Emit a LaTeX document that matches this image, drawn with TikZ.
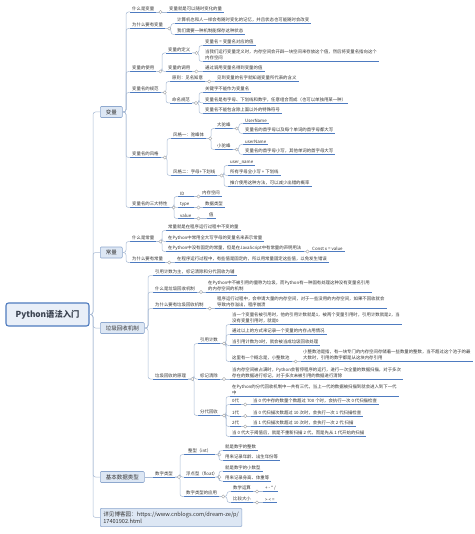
\documentclass[tikz,border=0pt]{standalone}
\usepackage{fontspec}
\setmainfont{Noto Sans CJK SC}
\usetikzlibrary{calc}
\definecolor{txt}{HTML}{333333}
\definecolor{ulc}{HTML}{4E7BC0}
\definecolor{cnc}{HTML}{A9BBD5}
\definecolor{boxf}{HTML}{DDE7F4}
\definecolor{boxd}{HTML}{8EA8CE}
\definecolor{rootf}{HTML}{E9EFF8}
\definecolor{rootd}{HTML}{4F7BBE}
\definecolor{foldc}{HTML}{A0A0A0}
\newcommand\mynd[5][]{\node[t,#1] (#2) at (#3,#4) {#5};\draw[ul] (#2.south west) -- (#2.south east);}
\newcommand\mylk[3]{\draw[conn] (#1) -| (#2,0 |- #3.south west) -- (#3.south west);}
\newcommand\mysk[2]{\draw[conn] (#1.south east) -- (#2.south west);}
\begin{document}
\begin{tikzpicture}[x=1pt,y=-1pt,
  t/.style={anchor=south west, inner xsep=2pt, inner ysep=1pt, align=left, text=txt, font=\fontsize{4.4}{6}\selectfont},
  ul/.style={draw=ulc, line width=0.6pt},
  conn/.style={draw=cnc, line width=0.5pt, rounded corners=2.5pt},
  fold/.style={draw=foldc, fill=white, line width=0.35pt},
  box/.style={draw=boxd, fill=boxf, line width=0.6pt, rounded corners=1pt, inner xsep=5.5pt, inner ysep=1pt, minimum height=11pt, text=txt, font=\fontsize{5.5}{7}\selectfont},
  rootbox/.style={draw=rootd, fill=rootf, line width=1.1pt, rounded corners=2.5pt, minimum width=83pt, minimum height=23pt, text=txt!80!rootd, font=\fontsize{8.3}{10}\selectfont\bfseries}]
\useasboundingbox (0,0) rectangle (474,534);
\fill[white] (0,0) rectangle (474,534);

\node[rootbox] (R) at (47.5,314.5) {Python语法入门};
\node[box, anchor=west] (L1) at (100,112) {变量};
\node[box, anchor=west] (L2) at (100,252.5) {常量};
\node[box, anchor=west] (L3) at (100,328) {垃圾回收机制};
\node[box, anchor=west] (L4) at (100,477) {基本数据类型};
\node[box, anchor=north west, align=left, inner xsep=3pt, inner ysep=3pt, font=\fontsize{5.6}{7.5}\selectfont] (L5) at (100,508) {详见博客园：https://www.cnblogs.com/dream-ze/p/\\17401902.html};

% 变量
\mynd{n1}{130}{12}{什么是变量}
\mynd{n1a}{167}{12}{变量就是可以随时变化的量}
\mynd{n2}{130}{28.5}{为什么要有变量}
\mynd{n2a}{175}{23.5}{计算机也和人一样会有随时变化的记忆，并且状态也可能随时会改变}
\mynd{n2b}{175}{34.5}{我们需要一种机制能保存这种状态}
\mynd{n3}{130}{71.5}{变量的使用}
\mynd{n3a}{166}{53}{变量的定义}
\mynd{n3a1}{203}{45.5}{变量名 = 变量名对应的值}
\mynd{n3a2}{203}{61.5}{当我们运行变量定义时，内存空间会开辟一块空间来存放这个值，然后将变量名指向这个\\内存空间}
\mynd{n3b}{166}{71.5}{变量的调用}
\mynd{n3b1}{203}{71.5}{通过调用变量名得到变量的值}
\mynd{n4}{130}{92.5}{变量名的规范}
\mynd{n4a}{170}{81.5}{原则：见名知意}
\mynd{n4a1}{215}{81.5}{见到变量的名字就知道变量所代表的含义}
\mynd{n4b}{170}{103}{命名规范}
\mynd{n4b1}{203}{92.5}{关键字不能作为变量名}
\mynd{n4b2}{203}{103}{变量名是有字母、下划线和数字，任意组合而成（也可以单独用某一种）}
\mynd{n4b3}{203}{113.5}{变量名不能包含除上面以外的特殊符号}
\mynd{n5}{130}{157.5}{变量名的风格}
\mynd{n5a}{171}{138.5}{风格一：驼峰体}
\mynd{n5a1}{215}{128.5}{大驼峰}
\mynd{n5a1a}{243}{123.5}{UserName}
\mynd{n5a1b}{243}{133.5}{变量名的首字母以及每个单词的首字母都大写}
\mynd{n5a2}{215}{149.5}{小驼峰}
\mynd{n5a2a}{243}{144.5}{userName}
\mynd{n5a2b}{243}{154.5}{变量名的首字母小写，其他单词的首字母大写}
\mynd{n5b}{171}{175.5}{风格二：字母+下划线}
\mynd{n5b1}{228}{165.5}{user\_name}
\mynd{n5b2}{228}{175.5}{所有字母全小写 + 下划线}
\mynd{n5b3}{228}{186.5}{推介使用这种方法，可以减少出错的概率}
\mynd{n6}{130}{207.5}{变量名的三大特性}
\mynd[text width=12pt]{n6a}{178}{196.5}{ID}
\mynd{n6a1}{200}{196.5}{内存空间}
\mynd[text width=12pt]{n6b}{178}{207.5}{type}
\mynd{n6b1}{203}{207.5}{数据类型}
\mynd[text width=12pt]{n6c}{178}{218.5}{value}
\mynd{n6c1}{207}{218.5}{值}

% 常量
\mynd{c1}{130}{241.5}{什么是常量}
\mynd{c1a}{166}{230.5}{常量就是在程序运行过程中不变的量}
\mynd{c1b}{166}{241.5}{在Python中常用全大写字母的变量名来表示常量}
\mynd{c1c}{166}{251.5}{在Python中没有固定的常量，但是在JavaScript中有常量的声明用法}
\mynd{c1c1}{310}{251.5}{Const x = value}
\mynd{c2}{130}{262.5}{为什么要有常量}
\mynd{c2a}{175}{262.5}{在程序运行过程中，有些值是固定的，所以用常量固定这些值，以免发生错误}

% 垃圾回收机制
\mynd{g1}{153}{275.5}{引用计数为主，标记清除和分代回收为辅}
\mynd{g2}{153}{292}{什么是垃圾回收机制}
\mynd{g2a}{206}{292}{在Python中不被引用的量称为垃圾，而Python有一种固有处理这种没有变量名引用\\的内存空间的机制}
\mynd{g3}{153}{308.5}{为什么要有垃圾回收机制}
\mynd{g3a}{215}{308.5}{程序运行过程中，会申请大量的内存空间，对于一些没用的内存空间，如果不回收就会\\导致内存溢出，程序崩溃}
\mynd{g4}{153}{379}{垃圾回收的原理}
\mynd{g4a}{198}{343.5}{引用计数}
\mynd{g4a1}{230}{324.5}{当一个变量名被引用时，他的引用计数就是1，被两个变量引用时，引用计数就是2，当\\没有变量引用时，就是0}
\mynd{g4a2}{230}{334.5}{通过以上的方式来记录一个变量的内存占用情况}
\mynd{g4a3}{230}{345.5}{当引用计数为0时，就会被当成垃圾回收处理}
\mynd{g4a4}{230}{361.5}{这里有一个概念是，小整数池}
\mynd{g4a4a}{301}{361.5}{小整数池是指，有一块专门的内存空间存储着一些数量的整数，当不超过这个池子的最\\大数时，引用的数字都是从这块内存引用}
\mynd{g4b}{198}{379}{标记清除}
\mynd{g4b1}{230}{379}{当内存空间被占满时，Python会暂停程序的运行，进行一次全量的数据扫描，对于多次\\存在的数据进行标记，对于多次未被引用的数据进行清除}
\mynd{g4c}{198}{415.5}{分代回收}
\mynd{g4c1}{230}{396.5}{在Python的分代回收机制中一共有三代，当上一代的数据被扫描到就会进入到下一代\\中}
\mynd{g4c2}{230}{404.5}{0代}
\mynd{g4c2a}{251}{404.5}{当 0 代中存的数量个数超过 700 个时，会执行一次 0 代扫描检查}
\mynd{g4c3}{230}{416}{1代}
\mynd{g4c3a}{251}{416}{当 0 代扫描次数超过 10 次时，会执行一次 1 代扫描检查}
\mynd{g4c4}{230}{426.5}{2代}
\mynd{g4c4a}{251}{426.5}{当 1 代扫描次数超过 10 次时，会执行一次 2 代 扫描}
\mynd{g4c5}{230}{436.5}{当 0 代大于阈值后，就是不重新扫描 2 代，而是先从 1 代开始的扫描}

% 基本数据类型
\mynd{b1}{153}{477}{数字类型}
\mynd[text width=27pt, align=center]{b1a}{184}{454.5}{整型（int）}
\mynd{b1a1}{223}{450.5}{就是数字的整数}
\mynd{b1a2}{223}{460.5}{用来记录年龄、出生年份等}
\mynd[text width=27pt, align=center]{b1b}{184}{477}{浮点型（float）}
\mynd{b1b1}{223}{471}{就是数字的小数型}
\mynd{b1b2}{223}{481}{用来记录身高、体重等}
\mynd{b1c}{184}{496.5}{数字类型的应用}
\mynd{b1c1}{231}{491.5}{数学运算}
\mynd{b1c1a}{263}{491.5}{+ - * /}
\mynd{b1c2}{231}{502.5}{比较大小}
\mynd{b1c2a}{263}{502.5}{> < =}

% connectors
\foreach \L in {L1,L2,L3,L4,L5} \draw[conn] (R.east) -| (93,0 |- \L.west) -- (\L.west);
\foreach \c in {n1,n2,n3,n4,n5,n6} {\mylk{L1.east}{126}{\c}}
\mysk{n1}{n1a}
\foreach \c in {n2a,n2b} {\mylk{n2.south east}{171}{\c}}
\foreach \c in {n3a,n3b} {\mylk{n3.south east}{162}{\c}}
\foreach \c in {n3a1,n3a2} {\mylk{n3a.south east}{199}{\c}}
\mysk{n3b}{n3b1}
\foreach \c in {n4a,n4b} {\mylk{n4.south east}{166}{\c}}
\mysk{n4a}{n4a1}
\foreach \c in {n4b1,n4b2,n4b3} {\mylk{n4b.south east}{199}{\c}}
\foreach \c in {n5a,n5b} {\mylk{n5.south east}{167}{\c}}
\foreach \c in {n5a1,n5a2} {\mylk{n5a.south east}{211}{\c}}
\foreach \c in {n5a1a,n5a1b} {\mylk{n5a1.south east}{239}{\c}}
\foreach \c in {n5a2a,n5a2b} {\mylk{n5a2.south east}{239}{\c}}
\foreach \c in {n5b1,n5b2,n5b3} {\mylk{n5b.south east}{224}{\c}}
\foreach \c in {n6a,n6b,n6c} {\mylk{n6.south east}{174}{\c}}
\mysk{n6a}{n6a1}
\mysk{n6b}{n6b1}
\mysk{n6c}{n6c1}
\foreach \c in {c1,c2} {\mylk{L2.east}{126}{\c}}
\foreach \c in {c1a,c1b,c1c} {\mylk{c1.south east}{162}{\c}}
\mysk{c1c}{c1c1}
\mysk{c2}{c2a}
\foreach \c in {g1,g2,g3,g4} {\mylk{L3.east}{148}{\c}}
\mysk{g2}{g2a}
\mysk{g3}{g3a}
\foreach \c in {g4a,g4b,g4c} {\mylk{g4.south east}{194}{\c}}
\foreach \c in {g4a1,g4a2,g4a3,g4a4} {\mylk{g4a.south east}{226}{\c}}
\mysk{g4a4}{g4a4a}
\mysk{g4b}{g4b1}
\foreach \c in {g4c1,g4c2,g4c3,g4c4,g4c5} {\mylk{g4c.south east}{226}{\c}}
\mysk{g4c2}{g4c2a}
\mysk{g4c3}{g4c3a}
\mysk{g4c4}{g4c4a}
\draw[conn] (L4.east) -- (b1.south west);
\foreach \c in {b1a,b1b,b1c} {\mylk{b1.south east}{180}{\c}}
\foreach \c in {b1a1,b1a2} {\mylk{b1a.south east}{219}{\c}}
\foreach \c in {b1b1,b1b2} {\mylk{b1b.south east}{219}{\c}}
\foreach \c in {b1c1,b1c2} {\mylk{b1c.south east}{227}{\c}}
\mysk{b1c1}{b1c1a}
\mysk{b1c2}{b1c2a}

% fold markers
\foreach \p in {n1,n2,n3,n3a,n3b,n4,n4a,n4b,n5,n5a,n5a1,n5a2,n5b,n6,n6a,n6b,n6c,c1,c1c,c2,g2,g3,g4,g4a,g4a4,g4b,g4c,g4c2,g4c3,g4c4,b1,b1a,b1b,b1c,b1c1,b1c2}
  \draw[fold] ($(\p.south east)+(4,0)$) circle (1.6);
\end{tikzpicture}
\end{document}
